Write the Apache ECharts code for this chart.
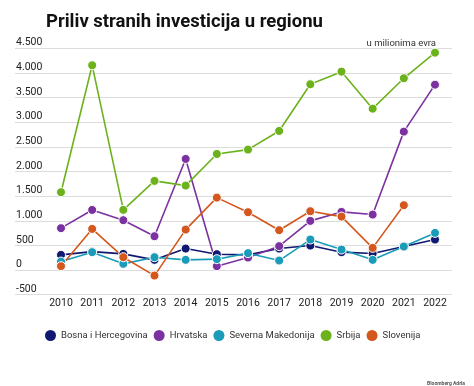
<!DOCTYPE html>
<html><head><meta charset="utf-8">
<script src="https://cdn.jsdelivr.net/npm/echarts@6/dist/echarts.min.js"></script>
<style>html,body{margin:0;padding:0;background:#fff}#c{width:474px;height:386px}</style>
</head><body><div id="c"></div>
<script>
const years = ['2010','2011','2012','2013','2014','2015','2016','2017','2018','2019','2020','2021','2022'];
const yTicks = [-500,0,500,1000,1500,2000,2500,3000,3500,4000,4500];
const bosna = [308,375,328,207,436,322,308,436,497,363,335,477,619];
const hrvatska = [850,1220,1012,687,2255,79,253,485,998,1180,1126,2809,3762];
const makedonija = [172,363,126,261,207,221,343,193,619,416,207,477,754];
const srbija = [1580,4155,1221,1809,1714,2356,2444,2823,3770,4026,3275,3892,4411];
const slovenija = [79,835,261,-112,821,1470,1174,809,1194,1085,450,1316,null];
const names = ['Bosna i Hercegovina','Hrvatska','Severna Makedonija','Srbija','Slovenija'];
const colors = ['#101870','#7b32a0','#1a9cb8','#6cb21c','#d4571e'];
const seriesData = [bosna,hrvatska,makedonija,srbija,slovenija];

const chart = echarts.init(document.getElementById('c'), null, {renderer:'canvas'});
const fmt = v => { const a = Math.abs(v); let s = a>=1000 ? Math.floor(a/1000)+'.'+String(a%1000).padStart(3,'0') : String(a); return (v<0?'-':'')+s; };
const gTop = 48.3, gBottom = 386-294.7;
const FF = 'Roboto';
chart.setOption({
  animation:false,
  backgroundColor:'#fff',
  title:[
    {text:'Priliv stranih investicija u regionu', left:41, top:8, textStyle:{fontFamily:FF, fontWeight:'bold', fontSize:18.5, color:'#111'}},
    {text:'u milionima evra', right:33, top:34, textStyle:{fontFamily:FF, fontWeight:'normal', fontSize:9.5, color:'#333'}},
    {text:'Bloomberg Adria', right:4, top:376, textStyle:{fontFamily:FF, fontWeight:'bold', fontSize:5, color:'#555'}}
  ],
  legend:{
    data:names, left:40, top:325, icon:'circle', itemWidth:11, itemHeight:11, itemGap:6,
    itemStyle:{borderWidth:0},
    textStyle:{fontFamily:FF, fontSize:9.5, color:'#333'}
  },
  grid:[
    {left:15, right:22, top:gTop, bottom:gBottom, containLabel:false},
    {left:61, right:39, top:gTop, bottom:gBottom, containLabel:false}
  ],
  xAxis:[
    {gridIndex:0, type:'category', data:years, show:false},
    {gridIndex:1, type:'category', data:years, boundaryGap:false,
     axisLine:{show:false}, axisTick:{show:false},
     axisLabel:{interval:0, fontFamily:FF, fontSize:10.5, color:'#222', margin:3}}
  ],
  yAxis:[
    {gridIndex:0, type:'value', min:-500, max:4500, interval:500,
     axisLine:{show:false}, axisTick:{show:false},
     splitLine:{lineStyle:{color:'#dcdcdc', width:1}},
     axisLabel:{inside:true, verticalAlign:'bottom', margin:1, padding:[0,0,0,0], fontFamily:FF, fontSize:10.5, color:'#222', formatter:fmt}},
    {gridIndex:1, type:'value', min:-500, max:4500, interval:500, show:false, splitLine:{show:false}}
  ],
  series: names.map((n,i)=>({
    name:n, type:'line', xAxisIndex:1, yAxisIndex:1, data:seriesData[i],
    symbol:'circle', symbolSize:9, color:colors[i],
    lineStyle:{width:1.6, color:colors[i]},
    itemStyle:{color:colors[i], borderColor:'#fff', borderWidth:1},
    connectNulls:false
  }))
});
</script></body></html>
